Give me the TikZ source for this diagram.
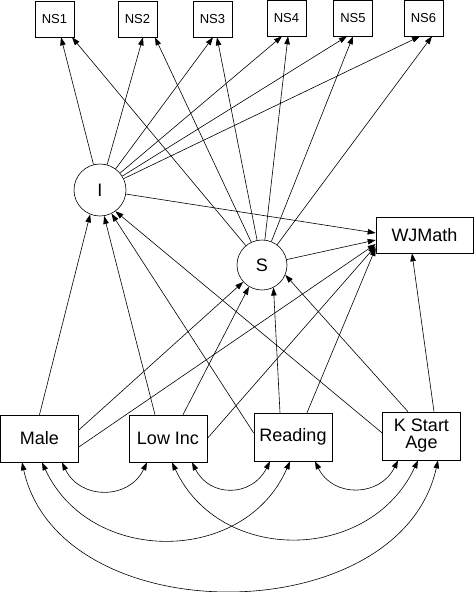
\documentclass[tikz,border=0pt]{standalone}
\usepackage{fontspec}
\setmainfont{Liberation Sans}
\usetikzlibrary{arrows.meta}
\begin{document}
\begin{tikzpicture}[x=1pt,y=-1pt,
  box/.style={draw, line width=0.6pt, fill=white, inner sep=0pt, align=center, font=\fontsize{18}{17}\selectfont},
  nsbox/.style={draw, line width=0.6pt, fill=white, minimum width=39pt, minimum height=36pt, inner sep=0pt, font=\fontsize{13}{13}\selectfont},
  lat/.style={draw, circle, line width=0.6pt, fill=white, inner sep=0pt, font=\fontsize{18}{18}\selectfont},
  reg/.style={-{Triangle[length=8pt,width=5.5pt]}, line width=0.6pt},
  cov/.style={{Triangle[length=8pt,width=5.5pt]}-{Triangle[length=8pt,width=5.5pt]}, line width=0.6pt}]
\useasboundingbox[fill=white] (0,0) rectangle (474,592);
% nodes
\node[nsbox] (ns1) at (54.5,19) {NS1};
\node[nsbox] (ns2) at (137.5,19) {NS2};
\node[nsbox] (ns3) at (212.5,19) {NS3};
\node[nsbox] (ns4) at (286.5,18) {NS4};
\node[nsbox] (ns5) at (353,18) {NS5};
\node[nsbox] (ns6) at (423.5,18) {NS6};
\node[lat, minimum size=52pt] (I) at (100,190) {I};
\node[lat, minimum size=50pt] (S) at (262,265) {S};
\node[box, minimum width=97pt, minimum height=36pt] (wj) at (424.5,235) {WJMath};
\node[box, minimum width=78pt, minimum height=47pt] (male) at (39.5,438.5) {Male};
\node[box, minimum width=78pt, minimum height=47pt] (low) at (168,438.5) {Low Inc};
\node[box, minimum width=78pt, minimum height=48pt] (read) at (293,437) {Reading};
\node[box, minimum width=78pt, minimum height=48pt] (ks) at (421.5,436) {K Start\\Age};
% I and S to indicators
\draw[reg] (I) -- ([shift={(6.5,0)}]ns1.south);
\draw[reg] (I) -- ([shift={(5.5,0)}]ns2.south);
\draw[reg] (I) -- ([shift={(0.5,0)}]ns3.south);
\draw[reg] (I) -- ([shift={(-4.5,0)}]ns4.south);
\draw[reg] (I) -- ([shift={(-6,0)}]ns5.south);
\draw[reg] (I) -- ([shift={(-3.5,0)}]ns6.south);
\draw[reg] (S) -- ([shift={(17.5,0)}]ns1.south);
\draw[reg] (S) -- ([shift={(17.5,0)}]ns2.south);
\draw[reg] (S) -- ([shift={(4.5,0)}]ns3.south);
\draw[reg] (S) -- ([shift={(1.5,0)}]ns4.south);
\draw[reg] (S) -- ([shift={(0,0)}]ns5.south);
\draw[reg] (S) -- ([shift={(8.5,0)}]ns6.south);
% I, S to WJMath
\draw[reg] (I) -- ([shift={(0,-2)}]wj.west);
\draw[reg] (S) -- ([shift={(0,5)}]wj.west);
% covariates
\draw[reg] (male.north) -- (I.-112);
\draw[reg] ([shift={(0,-8.5)}]male.east) -- (S.-138);
\draw[reg] ([shift={(0,8.5)}]male.east) -- ([shift={(0,9)}]wj.west);
\draw[reg] ([shift={(-13,0)}]low.north) -- (I.-81);
\draw[reg] ([shift={(15,0)}]low.north) -- (S.-121);
\draw[reg] (low.east) -- ([shift={(0,11)}]wj.west);
\draw[reg] ([shift={(0,-4)}]read.west) -- (I.-64);
\draw[reg] ([shift={(-13,0)}]read.north) -- (S.-63);
\draw[reg] ([shift={(14,0)}]read.north) -- ([shift={(0,13)}]wj.west);
\draw[reg] ([shift={(0,-3)}]ks.west) -- (I.-54);
\draw[reg] ([shift={(-13.5,0)}]ks.north) -- (S.-23);
\draw[reg] ([shift={(12.5,0)}]ks.north) -- ([shift={(-12.5,0)}]wj.south);
% covariances
\draw[cov] ([shift={(22.5,0)}]male.south) .. controls (80,500) and (129,500) .. ([shift={(-21,0)}]low.south);
\draw[cov] ([shift={(24,0)}]low.south) .. controls (210,498) and (252,497) .. ([shift={(-23,0)}]read.south);
\draw[cov] ([shift={(22,0)}]read.south) .. controls (333,498) and (380,497) .. ([shift={(-23.5,0)}]ks.south);
\draw[cov] ([shift={(2.5,0)}]male.south) .. controls (90,566) and (245,565) .. ([shift={(-3,0)}]read.south);
\draw[cov] ([shift={(4,0)}]low.south) .. controls (220,565) and (370,563) .. ([shift={(-3.5,0)}]ks.south);
\draw[cov] ([shift={(-17.5,0)}]male.south) .. controls (60,634) and (400,632) .. ([shift={(16.5,0)}]ks.south);
\end{tikzpicture}
\end{document}
